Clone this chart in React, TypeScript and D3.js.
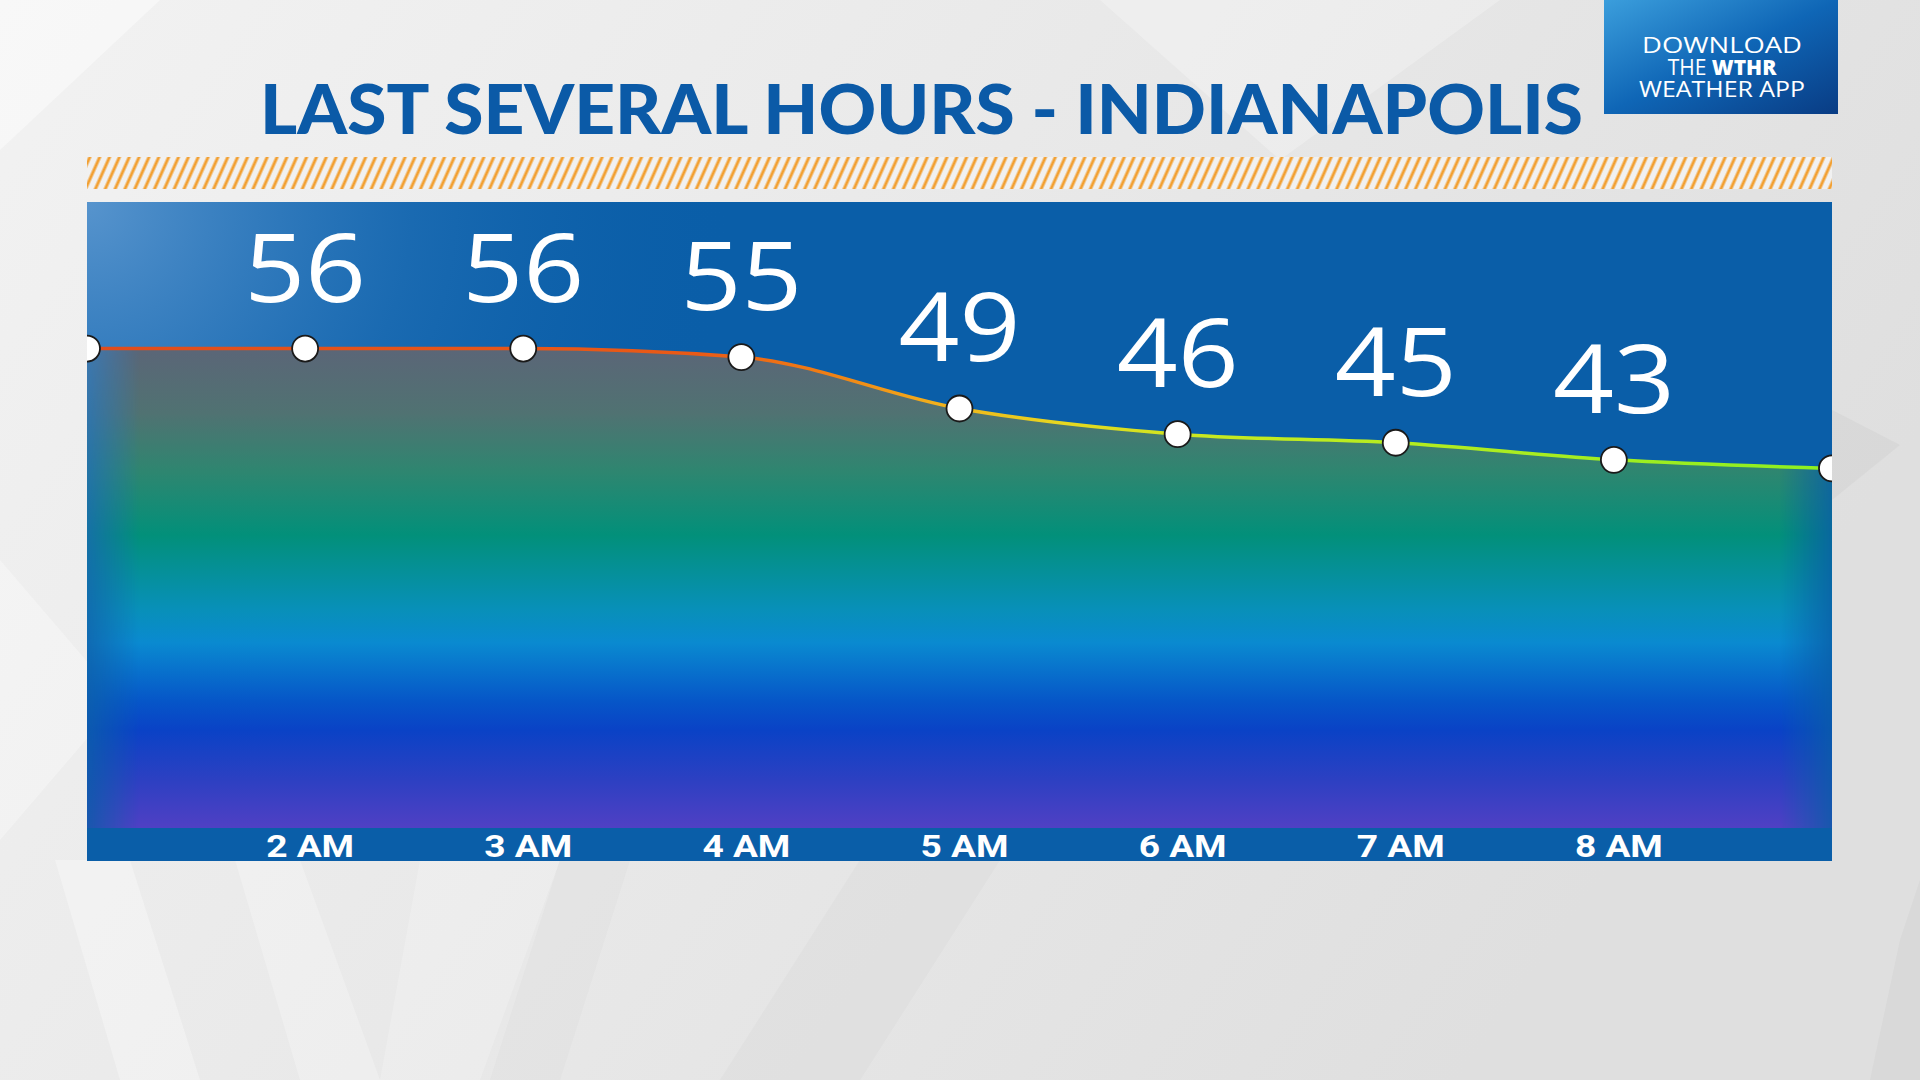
import React from 'react';
import * as d3 from 'd3';

const hours = ['1 AM', '2 AM', '3 AM', '4 AM', '5 AM', '6 AM', '7 AM', '8 AM', '9 AM'];
const temps = [56, 56, 56, 55, 49, 46, 45, 43, 42];
const labeledHours = ['2 AM', '3 AM', '4 AM', '5 AM', '6 AM', '7 AM', '8 AM'];
const titleText = 'LAST SEVERAL HOURS - INDIANAPOLIS';
const yDomain = [0, 73];

const W = 1920;
const H = 1080;
const P = { left: 87, right: 1832, top: 202, plotBottom: 828, bottom: 861 };

export default function App() {
  const x = d3.scalePoint<string>().domain(hours).range([P.left, P.right]);
  const y = d3.scaleLinear().domain(yDomain).range([P.plotBottom, 203]);
  const data = hours.map((h, i) => ({ h, v: temps[i] }));
  const area = d3
    .area<{ h: string; v: number }>()
    .x((d) => x(d.h)!)
    .y0(P.plotBottom)
    .y1((d) => y(d.v))
    .curve(d3.curveMonotoneX);
  const line = d3
    .line<{ h: string; v: number }>()
    .x((d) => x(d.h)!)
    .y((d) => y(d.v))
    .curve(d3.curveMonotoneX);

  const pw = P.right - P.left;

  return (
    <div style={{ position: 'absolute', left: 0, top: 0 }}>
      <svg width={W} height={H} style={{ display: 'block' }}>
        <defs>
          <linearGradient id="bg" x1="0" y1="0" x2="1" y2="0.4">
            <stop offset="0" stopColor="#f2f2f2" />
            <stop offset="0.5" stopColor="#e9e9e9" />
            <stop offset="1" stopColor="#dfdfdf" />
          </linearGradient>
          <pattern id="hatch" width="9" height="40" patternUnits="userSpaceOnUse" patternTransform="rotate(24)">
            <rect width="9" height="40" fill="#f1f1f1" />
            <line x1="2" y1="0" x2="2" y2="40" stroke="#f2a032" strokeWidth="3" />
          </pattern>
          <radialGradient id="panelHi" cx={P.left} cy={P.top} r="650" gradientUnits="userSpaceOnUse">
            <stop offset="0" stopColor="#8ab8e6" stopOpacity="0.6" />
            <stop offset="0.5" stopColor="#5a9ad6" stopOpacity="0.2" />
            <stop offset="1" stopColor="#0a5ea8" stopOpacity="0" />
          </radialGradient>
          <linearGradient id="areaGrad" x1="0" y1="340" x2="0" y2={P.plotBottom} gradientUnits="userSpaceOnUse">
            <stop offset="0" stopColor="#5c6478" />
            <stop offset="0.15" stopColor="#507272" />
            <stop offset="0.27" stopColor="#2e8670" />
            <stop offset="0.4" stopColor="#02907a" />
            <stop offset="0.55" stopColor="#0890b8" />
            <stop offset="0.62" stopColor="#0a8ad0" />
            <stop offset="0.74" stopColor="#0656c8" />
            <stop offset="0.8" stopColor="#0a42c6" />
            <stop offset="0.9" stopColor="#2c40c2" />
            <stop offset="1" stopColor="#5040c4" />
          </linearGradient>
          <linearGradient id="edgeFade" x1={P.left} y1="0" x2={P.right} y2="0" gradientUnits="userSpaceOnUse">
            <stop offset="0" stopColor="#fff" stopOpacity="0.2" />
            <stop offset="0.03" stopColor="#fff" stopOpacity="1" />
            <stop offset="0.97" stopColor="#fff" stopOpacity="1" />
            <stop offset="1" stopColor="#fff" stopOpacity="0.2" />
          </linearGradient>
          <mask id="areaMask" maskUnits="userSpaceOnUse" x="0" y="0" width={W} height={H}>
            <rect x={P.left} y={P.top} width={pw} height={P.plotBottom - P.top} fill="url(#edgeFade)" />
          </mask>
          <linearGradient id="lineGrad" x1={P.left} y1="0" x2={P.right} y2="0" gradientUnits="userSpaceOnUse">
            <stop offset="0" stopColor="#e04c1c" />
            <stop offset="0.35" stopColor="#ea5a16" />
            <stop offset="0.42" stopColor="#f07c14" />
            <stop offset="0.49" stopColor="#f2b21c" />
            <stop offset="0.56" stopColor="#e6d820" />
            <stop offset="0.65" stopColor="#c6ea20" />
            <stop offset="1" stopColor="#8cf020" />
          </linearGradient>
          <linearGradient id="logoGrad" x1="0" y1="0" x2="1" y2="1">
            <stop offset="0" stopColor="#3b9edc" />
            <stop offset="0.5" stopColor="#0f66b6" />
            <stop offset="1" stopColor="#093c84" />
          </linearGradient>
          <clipPath id="panelClip">
            <rect x={P.left} y={P.top} width={pw} height={P.bottom - P.top} />
          </clipPath>
        </defs>

        {/* page background */}
        <rect width={W} height={H} fill="url(#bg)" />
        <polygon points="0,150 160,0 0,0" fill="#ffffff" opacity="0.45" />
        <polygon points="0,560 120,700 0,840" fill="#ffffff" opacity="0.3" />
        <polygon points="55,860 130,860 200,1080 120,1080" fill="#ffffff" opacity="0.3" />
        <polygon points="235,860 300,860 380,1080 300,1080" fill="#ffffff" opacity="0.25" />
        <polygon points="420,860 560,860 480,1080 380,1080" fill="#ffffff" opacity="0.2" />
        <polygon points="560,860 630,860 560,1080 490,1080" fill="#d8d8d8" opacity="0.25" />
        <polygon points="860,860 1000,860 860,1080 720,1080" fill="#d4d4d4" opacity="0.25" />
        <polygon points="1100,0 1500,0 1280,160" fill="#ffffff" opacity="0.25" />
        <polygon points="1832,410 1900,445 1832,500" fill="#d2d2d2" opacity="0.5" />
        <polygon points="1900,940 1920,880 1920,1080 1870,1080" fill="#d0d0d0" opacity="0.4" />

        {/* title */}
        <text
          x={260}
          y={134}
          textLength={1323}
          lengthAdjust="spacingAndGlyphs"
          fontFamily="Lato, 'Open Sans', sans-serif"
          fontWeight={900}
          fontSize={68}
          fill="#0b5aa7"
        >
          {titleText}
        </text>

        {/* logo */}
        <rect x={1604} y={0} width={234} height={114} fill="url(#logoGrad)" />
        <text fontFamily="'Open Sans', sans-serif" fontSize={21} fill="#ffffff" textAnchor="middle">
          <tspan x={1722} y={53} textLength={160} lengthAdjust="spacingAndGlyphs">DOWNLOAD</tspan>
          <tspan x={1722} y={75}>
            THE <tspan fontWeight={800}>WTHR</tspan>
          </tspan>
          <tspan x={1722} y={97} textLength={166} lengthAdjust="spacingAndGlyphs">WEATHER APP</tspan>
        </text>

        {/* hatch band */}
        <rect x={P.left} y={157} width={pw} height={32} fill="url(#hatch)" />

        {/* panel */}
        <rect x={P.left} y={P.top} width={pw} height={P.bottom - P.top} fill="#0a5ea8" />
        <rect x={P.left} y={P.top} width={pw} height={P.bottom - P.top} fill="url(#panelHi)" />

        <g clipPath="url(#panelClip)">
          <path d={area(data)!} fill="url(#areaGrad)" mask="url(#areaMask)" />
          <path d={line(data)!} fill="none" stroke="url(#lineGrad)" strokeWidth={3.5} />
          {data.map((d) => (
            <circle key={d.h} cx={x(d.h)} cy={y(d.v)} r={13} fill="#ffffff" stroke="#1a1a1a" strokeWidth={1.8} />
          ))}
        </g>

        {/* value labels */}
        {data
          .filter((d) => labeledHours.includes(d.h))
          .map((d) => (
            <text
              key={'v' + d.h}
              x={x(d.h)}
              y={y(d.v) - 47}
              textAnchor="middle"
              textLength={122}
              lengthAdjust="spacingAndGlyphs"
              fontFamily="'Open Sans', sans-serif"
              fontWeight={400}
              fontSize={96}
              fill="#ffffff"
            >
              {d.v}
            </text>
          ))}

        {/* axis strip */}
        <rect x={P.left} y={P.plotBottom} width={pw} height={P.bottom - P.plotBottom} fill="#0a5ea8" />
        {labeledHours.map((h) => (
          <text
            key={h}
            x={x(h)! + 5}
            y={857}
            textAnchor="middle"
            textLength={88}
            lengthAdjust="spacingAndGlyphs"
            fontFamily="Roboto, 'Open Sans', sans-serif"
            fontWeight={700}
            fontSize={31}
            fill="#ffffff"
          >
            {h}
          </text>
        ))}
      </svg>
    </div>
  );
}
